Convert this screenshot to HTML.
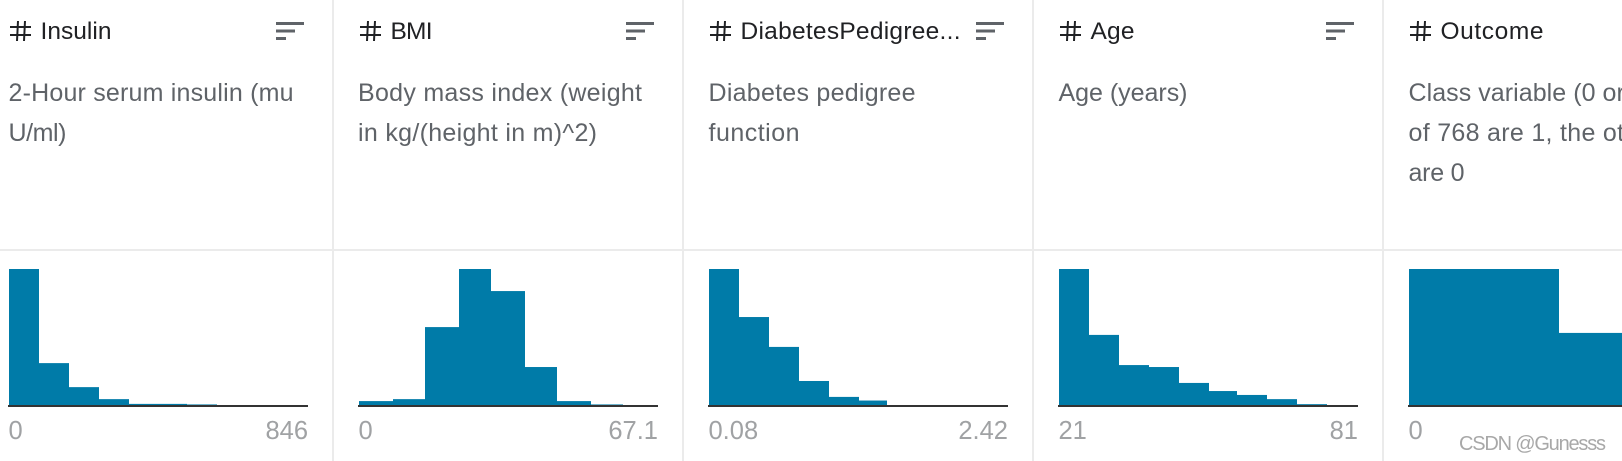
<!DOCTYPE html>
<html lang="en">
<head>
<meta charset="utf-8">
<title>Diabetes dataset column histograms</title>
<style>
html,body{margin:0;padding:0;background:#fff;width:1622px;height:461px;overflow:hidden}
svg{display:block;font-family:"Liberation Sans",Arial,sans-serif}
.title{font-size:24.5px;fill:#202124}
.desc{font-size:25px;fill:#5f6368}
.tick{font-size:25.5px;fill:#a0a2a4}
.sep{fill:#ebebeb}
.sort{fill:#5f6368}
.hash{stroke:#202124;stroke-width:2;fill:none}
</style>
</head>
<body>
<svg id="board" width="1622" height="461" viewBox="0 0 1622 461" xmlns="http://www.w3.org/2000/svg">
  <rect class="sep" x="0" y="249" width="1622" height="2"/>
  <rect class="sep" x="332" y="0" width="2" height="461"/>
  <rect class="sep" x="682" y="0" width="2" height="461"/>
  <rect class="sep" x="1032" y="0" width="2" height="461"/>
  <rect class="sep" x="1382" y="0" width="2" height="461"/>

  <g>
    <path class="hash" d="M10 27H31M10 35H31M18 21L17 41M25 21L24 41"/>
    <text class="title" x="40.5" y="39" textLength="71">Insulin</text>
    <g><rect class="sort" x="276" y="22" width="28" height="3"/><rect class="sort" x="276" y="29.500" width="19" height="3"/><rect class="sort" x="276" y="37" width="10" height="3"/></g>
    <text class="desc" x="8.500" y="101" textLength="285">2-Hour serum insulin (mu</text>
    <text class="desc" x="8.500" y="141" textLength="58">U/ml)</text>
  </g>
  <g>
    <path class="hash" d="M360 27H381M360 35H381M368 21L367 41M375 21L374 41"/>
    <text class="title" x="390.5" y="39" textLength="42">BMI</text>
    <g><rect class="sort" x="626" y="22" width="28" height="3"/><rect class="sort" x="626" y="29.500" width="19" height="3"/><rect class="sort" x="626" y="37" width="10" height="3"/></g>
    <text class="desc" x="358" y="101" textLength="284">Body mass index (weight</text>
    <text class="desc" x="358" y="141" textLength="239">in kg/(height in m)^2)</text>
  </g>
  <g>
    <path class="hash" d="M710 27H731M710 35H731M718 21L717 41M725 21L724 41"/>
    <text class="title" x="740.5" y="39" textLength="220">DiabetesPedigree...</text>
    <g><rect class="sort" x="976" y="22" width="28" height="3"/><rect class="sort" x="976" y="29.500" width="19" height="3"/><rect class="sort" x="976" y="37" width="10" height="3"/></g>
    <text class="desc" x="708.500" y="101" textLength="207">Diabetes pedigree</text>
    <text class="desc" x="708.500" y="141" textLength="91">function</text>
  </g>
  <g>
    <path class="hash" d="M1060 27H1081M1060 35H1081M1068 21L1067 41M1075 21L1074 41"/>
    <text class="title" x="1090.5" y="39" textLength="44">Age</text>
    <g><rect class="sort" x="1326" y="22" width="28" height="3"/><rect class="sort" x="1326" y="29.500" width="19" height="3"/><rect class="sort" x="1326" y="37" width="10" height="3"/></g>
    <text class="desc" x="1058.500" y="101" textLength="129">Age (years)</text>
  </g>
  <g>
    <path class="hash" d="M1410 27H1431M1410 35H1431M1418 21L1417 41M1425 21L1424 41"/>
    <text class="title" x="1440.5" y="39" textLength="103">Outcome</text>
    <text class="desc" x="1408.500" y="101" letter-spacing="0.05">Class variable (0 or 1); 268</text>
    <text class="desc" x="1408.500" y="141" letter-spacing="0.3">of 768 are 1, the others</text>
    <text class="desc" x="1408.500" y="181" textLength="56">are 0</text>
  </g>
  <g id="charts"></g>
  <text x="1459" y="450" font-size="20" fill="#a8a8a8" textLength="147">CSDN @Gunesss</text>
</svg>
<script>
// Estimated bin counts
const insulinCounts = [487, 150, 64, 21, 4, 4, 2, 0, 0, 0];
const bmiCounts = [14, 21, 279, 487, 408, 136, 14, 2, 0];
const pedigreeCounts = [487, 315, 208, 86, 29, 16, 0, 0, 0, 0];
const ageCounts = [487, 251, 143, 136, 79, 50, 36, 21, 3, 0];
const outcomeCounts = [500, 265];

const chartNames = ['insulin', 'bmi', 'pedigree', 'age', 'outcome'];
const minLabels = ['0', '0', '0.08', '21', '0'];
const maxLabels = ['846', '67.1', '2.42', '81', ''];
const allCounts = [insulinCounts, bmiCounts, pedigreeCounts, ageCounts, outcomeCounts];

const SVG_NS = 'http://www.w3.org/2000/svg';
const COLUMN_STEP = 350;
const PLOT_LEFT = 9;
const BASELINE_Y = 405;
const PLOT_HEIGHT = 136;
const AXIS_WIDTH = 300;
const host = document.getElementById('charts');

function binWidthFor(count) {
  if (count === 2) { return 150; }
  return 297 / count;
}
function xScale(columnIndex, binEdge, binWidth) {
  const offset = 2 * Math.round((binEdge * binWidth + 0.6) / 2);
  return columnIndex * COLUMN_STEP + PLOT_LEFT + offset;
}
function yScale(value, maxValue) {
  return BASELINE_Y - (value / maxValue) * PLOT_HEIGHT;
}

allCounts.forEach(function (counts, c) {
  const name = chartNames[c];
  const group = document.createElementNS(SVG_NS, 'g');
  
  
  host.appendChild(group);

  const maxValue = Math.max.apply(null, counts);
  const binWidth = binWidthFor(counts.length);
  counts.forEach(function (value, i) {
    if (value <= 0) { return; }
    const left = xScale(c, i, binWidth);
    const right = xScale(c, i + 1, binWidth);
    const top = yScale(value, maxValue);
    const bar = document.createElementNS(SVG_NS, 'rect');
    
    
    bar.setAttribute('x', left);
    bar.setAttribute('y', top);
    bar.setAttribute('width', right - left);
    bar.setAttribute('height', BASELINE_Y - top);
    bar.setAttribute('fill', '#007ba8');
    group.appendChild(bar);
  });

  const axis = document.createElementNS(SVG_NS, 'rect');
  
  
  axis.setAttribute('x', c * COLUMN_STEP + PLOT_LEFT - 1);
  axis.setAttribute('y', BASELINE_Y);
  axis.setAttribute('width', AXIS_WIDTH);
  axis.setAttribute('height', 2);
  axis.setAttribute('fill', '#333333');
  group.appendChild(axis);

  const minTick = document.createElementNS(SVG_NS, 'text');
  
  
  minTick.setAttribute('class', 'tick');
  minTick.setAttribute('x', c * COLUMN_STEP + PLOT_LEFT - 0.5);
  minTick.setAttribute('y', 439);
  minTick.textContent = minLabels[c];
  group.appendChild(minTick);

  if (maxLabels[c]) {
    const maxTick = document.createElementNS(SVG_NS, 'text');
    
    
    maxTick.setAttribute('class', 'tick');
    maxTick.setAttribute('x', c * COLUMN_STEP + PLOT_LEFT + AXIS_WIDTH - 1);
    maxTick.setAttribute('y', 439);
    maxTick.setAttribute('text-anchor', 'end');
    maxTick.textContent = maxLabels[c];
    group.appendChild(maxTick);
  }
});
</script>
</body>
</html>
